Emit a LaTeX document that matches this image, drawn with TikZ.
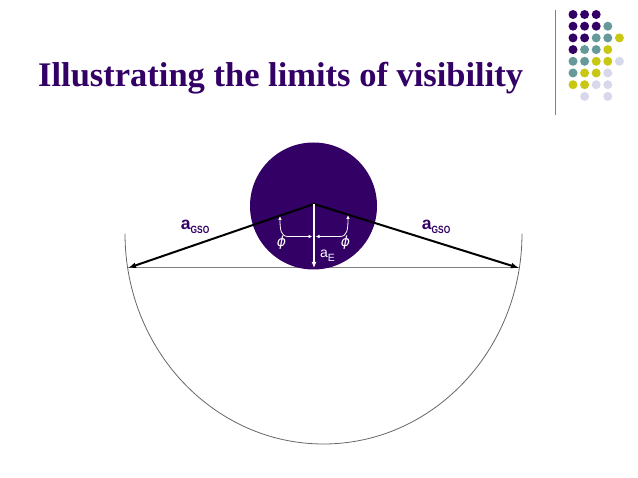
\documentclass[tikz,border=0pt]{standalone}
\usepackage{fontspec}
\setmainfont{Liberation Serif}
\newfontfamily\arialf{Liberation Sans}
\newfontfamily\dejaf{DejaVu Sans}
\newfontfamily\narrowf[FakeStretch=0.8]{Liberation Sans}
\usetikzlibrary{arrows.meta}
\definecolor{vpurple}{RGB}{51,0,102}
\definecolor{vteal}{RGB}{102,153,153}
\definecolor{vyellow}{RGB}{200,200,20}
\definecolor{vlav}{RGB}{216,216,236}
\tikzset{
  blackline/.style={line width=2pt, -{Latex[length=8pt,width=6pt]}},
  whitearrow/.style={white, line width=1.6pt, -{Latex[length=6pt,width=5pt]}},
  anglearc/.style={white, line width=0.8pt, {Latex[length=4pt,width=3.5pt]}-{Latex[length=4pt,width=3.5pt]}},
  dotp/.style={circle, inner sep=0pt, minimum size=9pt, fill=#1},
  gsolabel/.style={anchor=base west, inner sep=0pt, text=vpurple, font=\arialf\bfseries\fontsize{17.5}{17.5}\selectfont},
  philabel/.style={white, inner sep=0pt, font=\dejaf\itshape\fontsize{14}{14}\selectfont},
}
\newcommand{\gsotext}{a\raisebox{-4pt}{\narrowf\bfseries\fontsize{10.5}{10.5}\selectfont GSO}}
\begin{document}
\begin{tikzpicture}[x=1pt,y=-1pt]
\useasboundingbox (0,0) rectangle (638,478);
% title
\node[anchor=base west, inner sep=0pt, text=vpurple, font=\bfseries\fontsize{34.5}{40}\selectfont] (title) at (38,87) {Illustrating the limits of visibility};
% decoration line and dots
\draw[gray, line width=1pt] (555,10) -- (555,115);
\foreach \c/\r/\col in {0/0/vpurple,1/0/vpurple,2/0/vpurple,
  0/1/vpurple,1/1/vpurple,2/1/vpurple,3/1/vteal,
  0/2/vpurple,1/2/vpurple,2/2/vteal,3/2/vteal,4/2/vyellow,
  0/3/vpurple,1/3/vteal,2/3/vteal,3/3/vyellow,
  0/4/vteal,1/4/vteal,2/4/vyellow,3/4/vyellow,4/4/vlav,
  0/5/vteal,1/5/vyellow,2/5/vyellow,3/5/vlav,
  0/6/vyellow,1/6/vyellow,2/6/vlav,3/6/vlav,
  1/7/vlav,3/7/vlav}
  \node[dotp=\col] (d\c\r) at ({573+11.6*\c},{14.5+11.7*\r}) {};
% big half ellipse
\draw[gray!80!black, line width=0.8pt] (125,233.6) arc[start angle=180, end angle=360, x radius=198.5pt, y radius=210.4pt];
\coordinate (L) at (128,268);
\coordinate (R) at (519,268);
\draw[gray, line width=1pt] (L) -- (R);
% earth
\node[circle, fill=vpurple, inner sep=0pt, minimum size=127pt] (earth) at (313.5,206) {};
\coordinate (A) at (314,204);
\coordinate (B) at (314,268);
\draw[blackline] (A) -- (L);
\draw[blackline] (A) -- (R);
\draw[whitearrow] (A) -- (B);
% angle arcs
\draw[anglearc] (312.5,236.5) -- (288,236.5) .. controls (281,236.5) and (280,230) .. (280,216);
\draw[anglearc] (315.5,236.5) -- (340,236.5) .. controls (347,236.5) and (348,230) .. (348,215);
% labels
\node[philabel] (phiL) at (281.5,242.5) {ϕ};
\node[philabel] (phiR) at (345.5,242.5) {ϕ};
\node[anchor=base west, inner sep=0pt, text=white, font=\arialf\fontsize{14}{14}\selectfont] (aE) at (320,257.3) {a\raisebox{-4.5pt}{\fontsize{10.5}{10.5}\selectfont E}};
\node[gsolabel] (gsoL) at (180.7,230) {\gsotext};
\node[gsolabel] (gsoR) at (421.7,230) {\gsotext};
\end{tikzpicture}
\end{document}
